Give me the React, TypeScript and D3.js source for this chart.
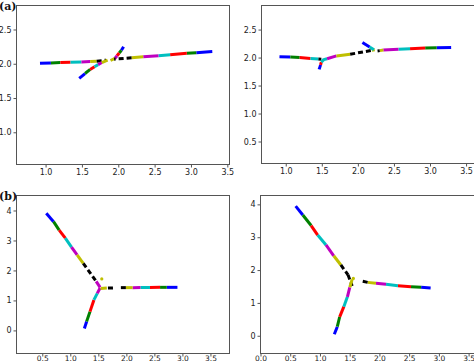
import React, { useEffect, useRef } from 'react'
import * as d3 from 'd3'

// matplotlib single-letter colors
const colorOf = {
    b: '#0000ff', g: '#008000', r: '#ff0000', c: '#00bfbf',
    m: '#bf00bf', y: '#bfbf00', k: '#000000'
}

// panel (a) left: branches from terminal inward, segment i gets cols[i]
const branchesA1 = [
    { cols: 'bgrcmyk', pts: [[0.93, 2.0], [1.08, 2.005], [1.21, 2.01], [1.35, 2.015], [1.5, 2.02], [1.62, 2.025], [1.71, 2.03], [1.84, 2.045]] },
    { cols: 'bgrcmy', pts: [[1.47, 1.78], [1.55, 1.85], [1.62, 1.91], [1.68, 1.95], [1.73, 1.98], [1.78, 2.01], [1.86, 2.045]] },
    { cols: 'bgrmy', pts: [[2.08, 2.24], [2.05, 2.19], [2.02, 2.15], [1.99, 2.11], [1.96, 2.07], [1.9, 2.04]] },
    { cols: 'bgrcmyk', pts: [[3.3, 2.17], [3.08, 2.155], [2.95, 2.145], [2.72, 2.125], [2.56, 2.11], [2.35, 2.095], [2.19, 2.08], [1.95, 2.06]] }
]
const dotsA1 = []

// panel (a) right
const branchesA2 = [
    { cols: 'bgrck', pts: [[0.92, 2.005], [1.07, 2.0], [1.2, 1.99], [1.35, 1.975], [1.46, 1.965], [1.5, 1.96]] },
    { cols: 'brc', pts: [[1.47, 1.78], [1.49, 1.86], [1.5, 1.91], [1.53, 1.95]] },
    { cols: 'cmyky', pts: [[1.52, 1.95], [1.58, 1.97], [1.71, 2.02], [1.9, 2.05], [2.2, 2.12], [2.24, 2.13]] },
    { cols: 'bc', pts: [[2.07, 2.26], [2.17, 2.18], [2.23, 2.13]] },
    { cols: 'bgrcmyk', pts: [[3.3, 2.17], [3.1, 2.165], [2.94, 2.16], [2.73, 2.15], [2.57, 2.14], [2.36, 2.125], [2.31, 2.115], [2.28, 2.11]] }
]
const dotsA2 = []

// panel (b) left
const branchesB1 = [
    { cols: 'bgrcmykm', pts: [[0.58, 3.89], [0.71, 3.61], [0.81, 3.33], [0.92, 3.06], [1.03, 2.76], [1.13, 2.5], [1.24, 2.22], [1.47, 1.62], [1.54, 1.42]] },
    { cols: 'bgrcm', pts: [[1.26, 0.05], [1.3, 0.28], [1.36, 0.61], [1.43, 1.0], [1.49, 1.22], [1.54, 1.4]] },
    { cols: 'bgrcmyk', pts: [[2.92, 1.42], [2.73, 1.42], [2.61, 1.42], [2.43, 1.415], [2.26, 1.415], [2.12, 1.41], [2.0, 1.41], [1.88, 1.41]] },
    { cols: 'ky', pts: [[1.77, 1.4], [1.66, 1.395], [1.55, 1.38]] }
]
const dotsB1 = [[1.57, 1.7]]

// panel (b) right
const branchesB2 = [
    { cols: 'bgrcmykk', pts: [[0.6, 3.93], [0.72, 3.66], [0.86, 3.34], [0.97, 3.05], [1.11, 2.75], [1.24, 2.42], [1.36, 2.14], [1.48, 1.84], [1.55, 1.5]] },
    { cols: 'bgrcmy', pts: [[1.25, 0.03], [1.3, 0.26], [1.34, 0.56], [1.41, 0.87], [1.47, 1.17], [1.51, 1.46], [1.55, 1.7]] },
    { cols: 'bgrcmyk', pts: [[2.87, 1.44], [2.71, 1.46], [2.54, 1.48], [2.32, 1.51], [2.12, 1.55], [1.95, 1.58], [1.81, 1.61], [1.71, 1.65]] }
]
const dotsB2 = [[1.57, 1.73]]

const xTicksA = [1.0, 1.5, 2.0, 2.5, 3.0, 3.5]
const yTicksA1 = [1.0, 1.5, 2.0, 2.5]
const yTicksA2 = [0.5, 1.0, 1.5, 2.0, 2.5]
const xTicksB1 = [0.5, 1.0, 1.5, 2.0, 2.5, 3.0, 3.5]
const xTicksB2 = [0.0, 0.5, 1.0, 1.5, 2.0, 2.5, 3.0, 3.5]
const yTicksB = [0, 1, 2, 3, 4]

const panels = [
    { box: [16, 229, 5, 164], xd: [0.6, 3.53], yd: [0.53, 2.85], xt: xTicksA, yt: yTicksA1, yf: '.1f', br: branchesA1, dots: dotsA1, tag: '(a)', pad: 2 },
    { box: [261, 480, 5, 163], xd: [0.664, 3.7], yd: [0.107, 2.93], xt: xTicksA, yt: yTicksA2, yf: '.1f', br: branchesA2, dots: dotsA2, tag: null, pad: 2 },
    { box: [16, 229, 195, 353], xd: [0.04, 3.84], yd: [-0.77, 4.5], xt: xTicksB1, yt: yTicksB, yf: 'd', br: branchesB1, dots: dotsB1, tag: '(b)', pad: -1 },
    { box: [260, 480, 195, 353], xd: [0.0, 3.7], yd: [-0.54, 4.27], xt: xTicksB2, yt: yTicksB, yf: 'd', br: branchesB2, dots: dotsB2, tag: null, pad: -1 }
]

export default function App() {
    const ref = useRef(null)

    useEffect(() => {
        document.body.style.margin = '0'
        const svg = d3.select(ref.current)
        svg.selectAll('*').remove()

        panels.forEach(p => {
            const [x0, x1, y0, y1] = p.box
            const x = d3.scaleLinear().domain(p.xd).range([x0, x1])
            const y = d3.scaleLinear().domain(p.yd).range([y1, y0])
            const g = svg.append('g')

            g.append('rect')
                .attr('x', x0 + 0.5).attr('y', y0 + 0.5)
                .attr('width', x1 - x0).attr('height', y1 - y0)
                .attr('fill', 'white').attr('stroke', '#555').attr('stroke-width', 1)

            const xa = g.append('g')
                .attr('transform', `translate(0.5,${y1 + 0.5})`)
                .call(d3.axisBottom(x).tickValues(p.xt).tickFormat(d3.format('.1f')).tickSize(3).tickPadding(p.pad))
            const ya = g.append('g')
                .attr('transform', `translate(${x0 + 0.5},0.5)`)
                .call(d3.axisLeft(y).tickValues(p.yt).tickFormat(d3.format(p.yf)).tickSize(3).tickPadding(2))
            ;[xa, ya].forEach(a => {
                a.select('.domain').remove()
                a.selectAll('.tick line').attr('stroke', '#555')
                a.selectAll('.tick text')
                    .attr('font-family', 'DejaVu Sans').attr('font-size', 8).attr('fill', '#222')
            })
            if (p.pad < 0) xa.selectAll('.tick text').attr('font-size', 7.5)

            const line = d3.line().x(d => x(d[0])).y(d => y(d[1]))
            p.br.forEach(b => {
                for (let i = 0; i < b.pts.length - 1; i++) {
                    const c = b.cols[i] || 'k'
                    g.append('path')
                        .attr('d', line([b.pts[i], b.pts[i + 1]]))
                        .attr('fill', 'none')
                        .attr('stroke', colorOf[c])
                        .attr('stroke-width', 3)
                        .attr('stroke-dasharray', c === 'k' ? '5,3' : null)
                }
            })
            g.selectAll('circle.dot')
                .data(p.dots)
                .join('circle')
                .attr('class', 'dot')
                .attr('cx', d => x(d[0])).attr('cy', d => y(d[1]))
                .attr('r', 1.6).attr('fill', colorOf.y)

            if (p.tag)
                svg.append('text')
                    .attr('x', -1).attr('y', y0 + 5)
                    .attr('font-family', 'DejaVu Serif').attr('font-weight', 'bold')
                    .attr('font-size', 11).attr('fill', '#111')
                    .text(p.tag)
        })
    }, [])

    return <svg ref={ref} width={474} height={363} style={{ display: 'block' }} />
}
